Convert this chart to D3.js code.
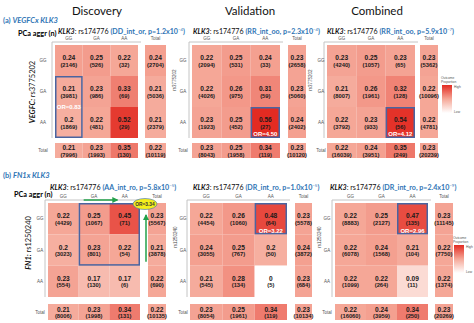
<!DOCTYPE html>
<html>
<head>
<meta charset="utf-8">
<script src="https://cdn.jsdelivr.net/npm/d3@7"></script>
<style>
  body { margin: 0; background: #fff; }
  text { font-family: "Liberation Sans", Arial, sans-serif; }
</style>
</head>
<body>
<svg id="chart" width="474" height="323"></svg>
<script>
// ---- data ----
const studies = ["Discovery", "Validation", "Combined"];
const genotypes = ["GG", "GA", "AA"];
const headers = ["GG", "GA", "AA", "Total"];

// rows GG, GA, AA, Total  x  cols GG, GA, AA, Total ; one block per study
const vegfcProp = [
  [[0.24, 0.25, 0.22, 0.24], [0.21, 0.23, 0.33, 0.21], [0.2, 0.22, 0.52, 0.21], [0.21, 0.23, 0.35, 0.22]],
  [[0.22, 0.25, 0.24, 0.23], [0.22, 0.26, 0.31, 0.23], [0.23, 0.25, 0.56, 0.24], [0.23, 0.25, 0.34, 0.23]],
  [[0.23, 0.25, 0.23, 0.23], [0.21, 0.26, 0.32, 0.22], [0.22, 0.23, 0.54, 0.22], [0.22, 0.24, 0.35, 0.23]]
];
const vegfcN = [
  [[2146, 526, 32, 2704], [3981, 986, 69, 5036], [1869, 481, 29, 2379], [7996, 1993, 130, 10119]],
  [[2094, 531, 33, 2658], [4026, 975, 59, 5060], [1923, 452, 27, 2402], [8043, 1958, 119, 10120]],
  [[4240, 1057, 65, 5362], [8007, 1961, 128, 10096], [3792, 933, 56, 4781], [16039, 3951, 249, 20239]]
];
const fn1Prop = [
  [[0.22, 0.25, 0.45, 0.23], [0.2, 0.23, 0.22, 0.21], [0.23, 0.17, 0.17, 0.22], [0.21, 0.23, 0.34, 0.22]],
  [[0.22, 0.26, 0.48, 0.23], [0.24, 0.25, 0.2, 0.24], [0.21, 0.28, 0, 0.23], [0.23, 0.25, 0.34, 0.23]],
  [[0.22, 0.25, 0.47, 0.23], [0.22, 0.24, 0.21, 0.22], [0.22, 0.22, 0.09, 0.22], [0.22, 0.24, 0.34, 0.23]]
];
const fn1N = [
  [[4429, 1067, 71, 5567], [3023, 801, 54, 3878], [554, 130, 6, 690], [8006, 1998, 131, 10135]],
  [[4454, 1060, 64, 5578], [3055, 767, 50, 3872], [545, 134, 5, 684], [8054, 1961, 119, 10134]],
  [[8883, 2127, 135, 11145], [6078, 1568, 104, 7750], [1099, 264, 11, 1374], [16060, 3959, 250, 20269]]
];

const vegfcModel = ["DD_int_or", "RR_int_oo", "RR_int_oo"];
const vegfcP = ["1.2", "2.3", "5.9"];
const vegfcExp = ["−4", "−4", "−7"];
const fn1Model = ["AA_int_ro", "DR_int_ro", "DR_int_ro"];
const fn1P = ["5.8", "1.0", "2.4"];
const fn1Exp = ["−5", "−5", "−9"];

const vegfcOR = [0.83, 4.50, 4.12];
const vegfcHlRows = [["GA", "AA"], ["AA"], ["AA"]];
const vegfcHlCols = [["GG"], ["AA"], ["AA"]];
const fn1OR = [3.34, 3.22, 2.96];
const fn1HlRows = [["GG", "GA"], ["GG"], ["GG"]];
const fn1HlCols = [["GA", "AA"], ["AA"], ["AA"]];

// ---- layout ----
const layoutA = [
  { gx: [55, 138], gy: [45, 138], tc: [145, 166], tr: [143, 158], title: [58, 34], rowLab: 43, yLab: [35, 92], orY: 2.05 },
  { gx: [192, 280], gy: [45, 138], tc: [288, 306], tr: [143, 158], title: [193, 34], rowLab: 183, yLab: [176, 80], orY: 2.95 },
  { gx: [327, 415], gy: [45, 138], tc: [420, 438], tr: [143, 158], title: [327, 34], rowLab: 321, yLab: [312, 80], orY: 2.95 }
];
const layoutB = [
  { gx: [48, 140], gy: [203, 297], tc: [148, 166], tr: [304, 320], title: [50, 190], rowLab: 40, yLab: [31, 243], orY: null },
  { gx: [190, 287], gy: [203, 297], tc: [295, 312], tr: [304, 320], title: [193, 190], rowLab: 183, yLab: [177, 237], orY: 0.95 },
  { gx: [335, 428], gy: [203, 297], tc: [435, 453], tr: [304, 320], title: [330, 190], rowLab: 327, yLab: [321, 237], orY: 0.95 }
];

const blue = "#2f75b5";
const hlBlue = "#4a64a0";
const color = d3.scaleLinear()
  .domain([0, 0.22, 0.56])
  .range(["#ffffff", "#f5a797", "#e32b22"])
  .clamp(true);

const svg = d3.select("#chart");
const defs = svg.append("defs");

// study titles
const titleX = [97, 250, 377];
svg.selectAll("text.study")
  .data(studies)
  .enter().append("text")
    .attr("class", "study")
    .attr("x", (d, i) => titleX[i])
    .attr("y", 15)
    .attr("text-anchor", "middle")
    .style("font-family", "Lato, 'Open Sans', sans-serif")
    .style("font-size", "11.5px")
    .attr("fill", "#111")
    .text(d => d);

// section headings
function heading(y, gene) {
  const t = svg.append("text")
    .attr("x", 3).attr("y", y)
    .attr("fill", blue)
    .style("font-size", "7.5px")
    .style("font-weight", "bold")
    .style("font-family", "Lato, sans-serif");
  t.append("tspan").text(y < 100 ? "(a) " : "(b) ");
  t.append("tspan").style("font-style", "italic").text(gene + "x KLK3");
}
heading(23, "VEGFC");
heading(178, "FN1");

svg.append("text").attr("x", 18).attr("y", 36)
  .style("font-size", "7.3px").style("font-weight", "bold")
  .style("font-family", "Lato, sans-serif")
  .text("PCa aggr (n)");
svg.append("text").attr("x", 14).attr("y", 197)
  .style("font-size", "7.3px").style("font-weight", "bold")
  .style("font-family", "Lato, sans-serif")
  .text("PCa aggr (n)");

function drawPanel(L, prop, n, model, pm, pexp, hlRows, hlCols, or, snp, gene, si) {
  const g = svg.append("g");
  const x = d3.scaleBand().domain(genotypes).range(L.gx);
  const y = d3.scaleBand().domain(genotypes).range(L.gy);
  const xAll = c => c < 3 ? x(genotypes[c]) : L.tc[0];
  const wAll = c => c < 3 ? x.bandwidth() : L.tc[1] - L.tc[0];
  const yAll = r => r < 3 ? y(genotypes[r]) : L.tr[0];
  const hAll = r => r < 3 ? y.bandwidth() : L.tr[1] - L.tr[0];

  // axis corner lines
  g.append("path")
    .attr("d", `M${L.gx[0] - 3},${L.gy[1]}V${L.gy[0] - 3}H${L.gx[1] + 3}`)
    .attr("fill", "none").attr("stroke", "#c4c4c4").attr("stroke-width", 1);

  const cells = [];
  for (let r = 0; r < 4; r++) for (let c = 0; c < 4; c++) cells.push({ r, c, p: prop[r][c], n: n[r][c] });

  const cg = g.selectAll("g.cell").data(cells).enter().append("g").attr("class", "cell");
  cg.append("rect")
    .attr("x", d => xAll(d.c)).attr("y", d => yAll(d.r))
    .attr("width", d => wAll(d.c)).attr("height", d => hAll(d.r))
    .attr("fill", d => color(d.p));
  cg.append("text")
    .attr("x", d => xAll(d.c) + wAll(d.c) / 2)
    .attr("y", d => yAll(d.r) + hAll(d.r) / 2 - 0.5)
    .attr("text-anchor", "middle")
    .style("font-size", "6.6px").style("font-weight", "bold").attr("fill", "#1a1a1a")
    .text(d => String(d.p));
  cg.append("text")
    .attr("x", d => xAll(d.c) + wAll(d.c) / 2)
    .attr("y", d => yAll(d.r) + hAll(d.r) / 2 + 6)
    .attr("text-anchor", "middle")
    .style("font-size", "5.8px").style("font-weight", "bold").attr("fill", "#1a1a1a")
    .text(d => "(" + d.n + ")");

  // column headers
  g.selectAll("text.ch").data(headers).enter().append("text")
    .attr("x", (d, c) => xAll(c) + wAll(c) / 2)
    .attr("y", L.gy[0] - 5)
    .attr("text-anchor", "middle")
    .style("font-size", "4.5px").attr("fill", "#555")
    .text(d => d);
  // row headers
  g.selectAll("text.rh").data(headers).enter().append("text")
    .attr("x", L.rowLab)
    .attr("y", (d, r) => yAll(r) + hAll(r) / 2 + 1.5)
    .attr("text-anchor", "middle")
    .style("font-size", "4.5px").attr("fill", "#555")
    .text(d => d);

  // y label
  const yl = g.append("text")
    .attr("transform", `translate(${L.yLab[0]},${L.yLab[1]}) rotate(-90)`)
    .attr("text-anchor", "middle");
  if (si === 0) {
    yl.style("font-size", "7.5px").attr("fill", "#111").style("font-family", "Lato, sans-serif");
    yl.append("tspan").style("font-weight", "bold").style("font-style", "italic").text(gene + ": ");
    yl.append("tspan").text(snp);
  } else {
    yl.style("font-size", "4.5px").attr("fill", "#444").text(snp);
  }

  // KLK3 title
  const t = g.append("text").attr("x", L.title[0]).attr("y", L.title[1])
    .style("font-size", "7.1px").style("font-family", "Lato, sans-serif").attr("fill", "#111");
  t.append("tspan").style("font-weight", "bold").style("font-style", "italic").text("KLK3");
  t.append("tspan").text(": rs174776 ");
  t.append("tspan").attr("fill", blue).style("font-weight", "bold").text("(" + model + ", p=" + pm + "x10");
  t.append("tspan").attr("fill", blue).style("font-size", "4.4px").attr("dy", -2.8).text(pexp);
  t.append("tspan").attr("fill", blue).style("font-weight", "bold").attr("dy", 2.8).text(")");

  // highlight box
  const hx0 = x(hlCols[0]), hx1 = x(hlCols[hlCols.length - 1]) + x.bandwidth();
  const hy0 = y(hlRows[0]), hy1 = y(hlRows[hlRows.length - 1]) + y.bandwidth();
  g.append("rect")
    .attr("x", hx0 + 0.75).attr("y", hy0 + 0.75)
    .attr("width", hx1 - hx0 - 1.5).attr("height", hy1 - hy0 - 1.5)
    .attr("fill", "none").attr("stroke", hlBlue).attr("stroke-width", 1.5);
  if (L.orY !== null) {
    g.append("text")
      .attr("x", (hx0 + hx1) / 2)
      .attr("y", L.gy[0] + L.orY * y.bandwidth())
      .attr("text-anchor", "middle")
      .style("font-size", "6px").style("font-weight", "bold").attr("fill", "#fff")
      .text("OR=" + or.toFixed(2));
  }
  return { g, x, y, L, or };
}

for (let i = 0; i < 3; i++) {
  drawPanel(layoutA[i], vegfcProp[i], vegfcN[i], vegfcModel[i], vegfcP[i], vegfcExp[i],
    vegfcHlRows[i], vegfcHlCols[i], vegfcOR[i], "rs3775202", "VEGFC", i);
}
const fnPanels = [];
for (let i = 0; i < 3; i++) {
  fnPanels.push(drawPanel(layoutB[i], fn1Prop[i], fn1N[i], fn1Model[i], fn1P[i], fn1Exp[i],
    fn1HlRows[i], fn1HlCols[i], fn1OR[i], "rs1250240", "FN1", i));
}

// green arrows + yellow OR bubble on FN1 discovery
{
  const p = fnPanels[0];
  defs.append("marker").attr("id", "ga").attr("viewBox", "0 0 6 6")
    .attr("refX", 5).attr("refY", 3).attr("markerWidth", 4).attr("markerHeight", 4)
    .attr("orient", "auto")
    .append("path").attr("d", "M0,0L6,3L0,6Z").attr("fill", "#22a04a");
  const ax0 = p.x("GA") + 5, ax1 = p.x("AA") + 8, ay = p.L.gy[0] - 3;
  svg.append("line").attr("x1", ax0).attr("x2", ax1).attr("y1", ay).attr("y2", ay)
    .attr("stroke", "#22a04a").attr("stroke-width", 1.5).attr("marker-end", "url(#ga)");
  const vx = p.L.gx[1] + 6;
  svg.append("line").attr("x1", vx).attr("x2", vx)
    .attr("y1", p.y("GA") + p.y.bandwidth() - 4).attr("y2", p.y("GG") + 12)
    .attr("stroke", "#22a04a").attr("stroke-width", 1.5).attr("marker-end", "url(#ga)");
  svg.append("ellipse").attr("cx", p.L.gx[1] + 5).attr("cy", p.L.gy[0] + 1)
    .attr("rx", 12).attr("ry", 5.5)
    .attr("fill", "#f4ee1c").attr("stroke", "#3b6fb6").attr("stroke-width", 0.6);
  svg.append("text").attr("x", p.L.gx[1] + 5).attr("y", p.L.gy[0] + 2.8)
    .attr("text-anchor", "middle")
    .style("font-size", "4.8px").style("font-weight", "bold").attr("fill", "#333")
    .text("OR=" + p.or.toFixed(2));
}

// colour legends
const grad = defs.append("linearGradient").attr("id", "lg")
  .attr("x1", 0).attr("x2", 0).attr("y1", 0).attr("y2", 1);
grad.selectAll("stop").data([0.56, 0.22, 0]).enter().append("stop")
  .attr("offset", (d, i) => i / 2).attr("stop-color", d => color(d));

function legend(x0, y0) {
  const lg = svg.append("g").attr("transform", `translate(${x0},${y0})`);
  lg.append("rect").attr("width", 10).attr("height", 28).attr("fill", "url(#lg)");
  lg.append("text").attr("x", -1).attr("y", -6).style("font-size", "3.3px").attr("fill", "#555").text("Outcome");
  lg.append("text").attr("x", -1).attr("y", -2.5).style("font-size", "3.3px").attr("fill", "#555").text("Proportion");
  lg.append("text").attr("x", 12).attr("y", 3).style("font-size", "3.3px").attr("fill", "#555").text("High");
  lg.append("text").attr("x", 12).attr("y", 28).style("font-size", "3.3px").attr("fill", "#555").text("Low");
}
legend(442, 85);
legend(454, 245);
</script>
</body>
</html>
